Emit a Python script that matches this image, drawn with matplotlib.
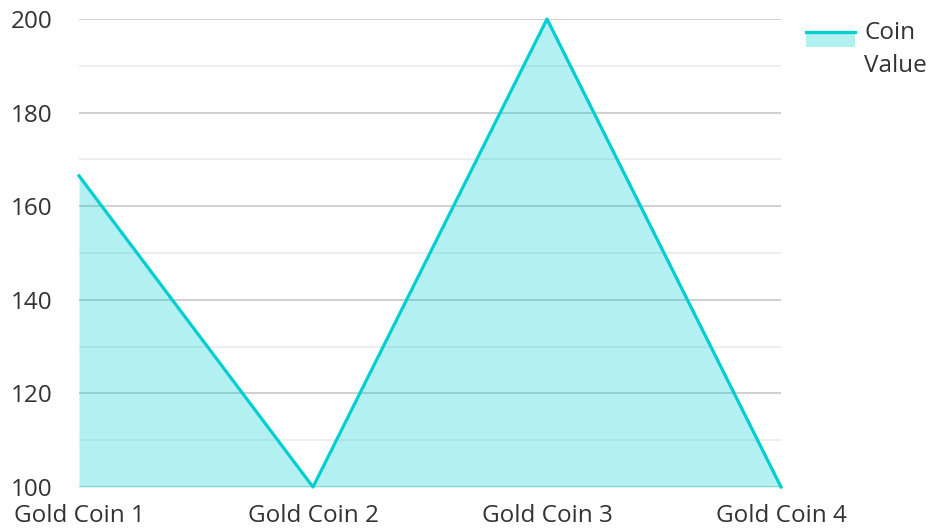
import matplotlib
matplotlib.use("Agg")
import matplotlib.pyplot as plt
from matplotlib.patches import Rectangle
from matplotlib.lines import Line2D
from matplotlib.legend_handler import HandlerBase
from matplotlib.ticker import MultipleLocator

categories = ["Gold Coin 1", "Gold Coin 2", "Gold Coin 3", "Gold Coin 4"]
values = [166.5, 100, 200, 100]
series_name = "Coin\nValue"

line_color = "#00CED1"
fill_color = "#00CED1"
FS = 17.5

plt.rcParams['font.family'] = ['Open Sans', 'DejaVu Sans']

fig = plt.figure(figsize=(9.31, 5.28), dpi=100)
ax = fig.add_axes([79/931, 1-487/528, (781-79)/931, (487-19)/528])

x = list(range(len(categories)))
ax.fill_between(x, values, 100, color=fill_color, alpha=0.3, linewidth=0, zorder=3)
ax.plot(x, values, color=line_color, linewidth=2.3, zorder=4, solid_joinstyle='round',
        clip_on=False)

ax.set_xlim(0, len(categories) - 1)
ax.set_ylim(100, 200)
ax.set_xticks(x)
ax.set_xticklabels(categories)
ax.yaxis.set_major_locator(MultipleLocator(20))
ax.yaxis.set_minor_locator(MultipleLocator(10))
ax.grid(which='major', axis='y', color='#c8c8c8', linewidth=1.2, zorder=1)
ax.grid(which='minor', axis='y', color='#ebebeb', linewidth=1.2, zorder=1)
ax.set_axisbelow(True)
for s in ax.spines.values():
    s.set_visible(False)
ax.tick_params(axis='both', which='both', length=0, labelsize=FS, colors='#333333')
ax.tick_params(axis='y', pad=19)
ax.tick_params(axis='x', pad=12)


class AreaHandler(HandlerBase):
    def create_artists(self, legend, orig_handle, xdescent, ydescent, width, height, fontsize, trans):
        y0 = -ydescent + 1.02 * fontsize
        r = Rectangle((-xdescent, y0 - height), width, height,
                      facecolor=fill_color, alpha=0.3, edgecolor='none', transform=trans)
        l = Line2D([-xdescent, -xdescent + width], [y0, y0],
                   color=line_color, linewidth=2.3, transform=trans)
        return [r, l]


handle = Rectangle((0, 0), 1, 1)
leg = fig.legend([handle], [series_name], handler_map={Rectangle: AreaHandler()},
                 loc='upper left', bbox_to_anchor=(806/931, 1-21/528), frameon=False,
                 fontsize=FS, handlelength=2.0, handleheight=0.55, handletextpad=0.4,
                 borderaxespad=0, borderpad=0, labelcolor='#333333')
for t in leg.get_texts():
    t.set_linespacing(1.5)
    t.set_multialignment('left')

fig.savefig("out.png", dpi=100)
